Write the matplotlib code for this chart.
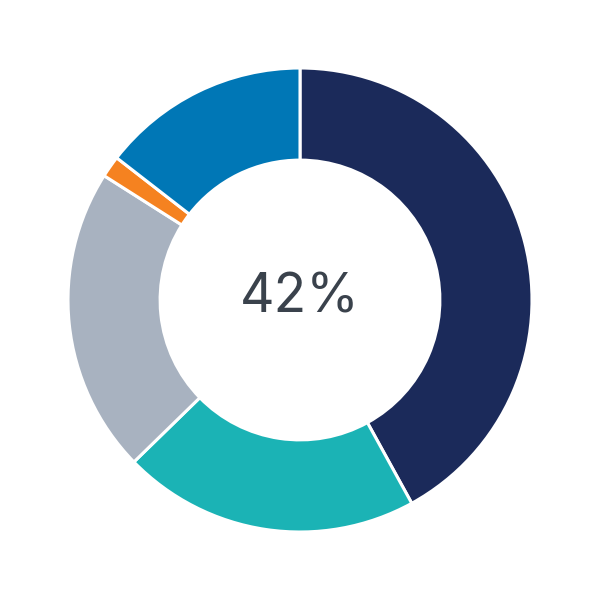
import matplotlib.pyplot as plt

labels = ["Navy", "Teal", "Gray", "Orange", "Blue"]
shares = [42.0, 20.7, 21.3, 1.5, 14.5]
colors = ["#1b2a5a", "#1bb3b5", "#a8b2c0", "#f58220", "#0077b6"]
center_text = "42%"

fig = plt.figure(figsize=(6, 6), dpi=100)
ax = fig.add_axes([0, 0, 1, 1])

ax.pie(shares, colors=colors, startangle=90, counterclock=False,
       radius=1.0,
       wedgeprops=dict(width=0.397, edgecolor="white", linewidth=2.2))
ax.text(0, 0.01, center_text, ha="center", va="center", fontsize=38.5,
        color="#3a424c", family="Inter")

lim = 300 / 232
ax.set_xlim(-lim, lim)
ax.set_ylim(-lim, lim)
ax.set_aspect("equal")
ax.axis("off")

fig.savefig("out.png", dpi=100, facecolor="white")
